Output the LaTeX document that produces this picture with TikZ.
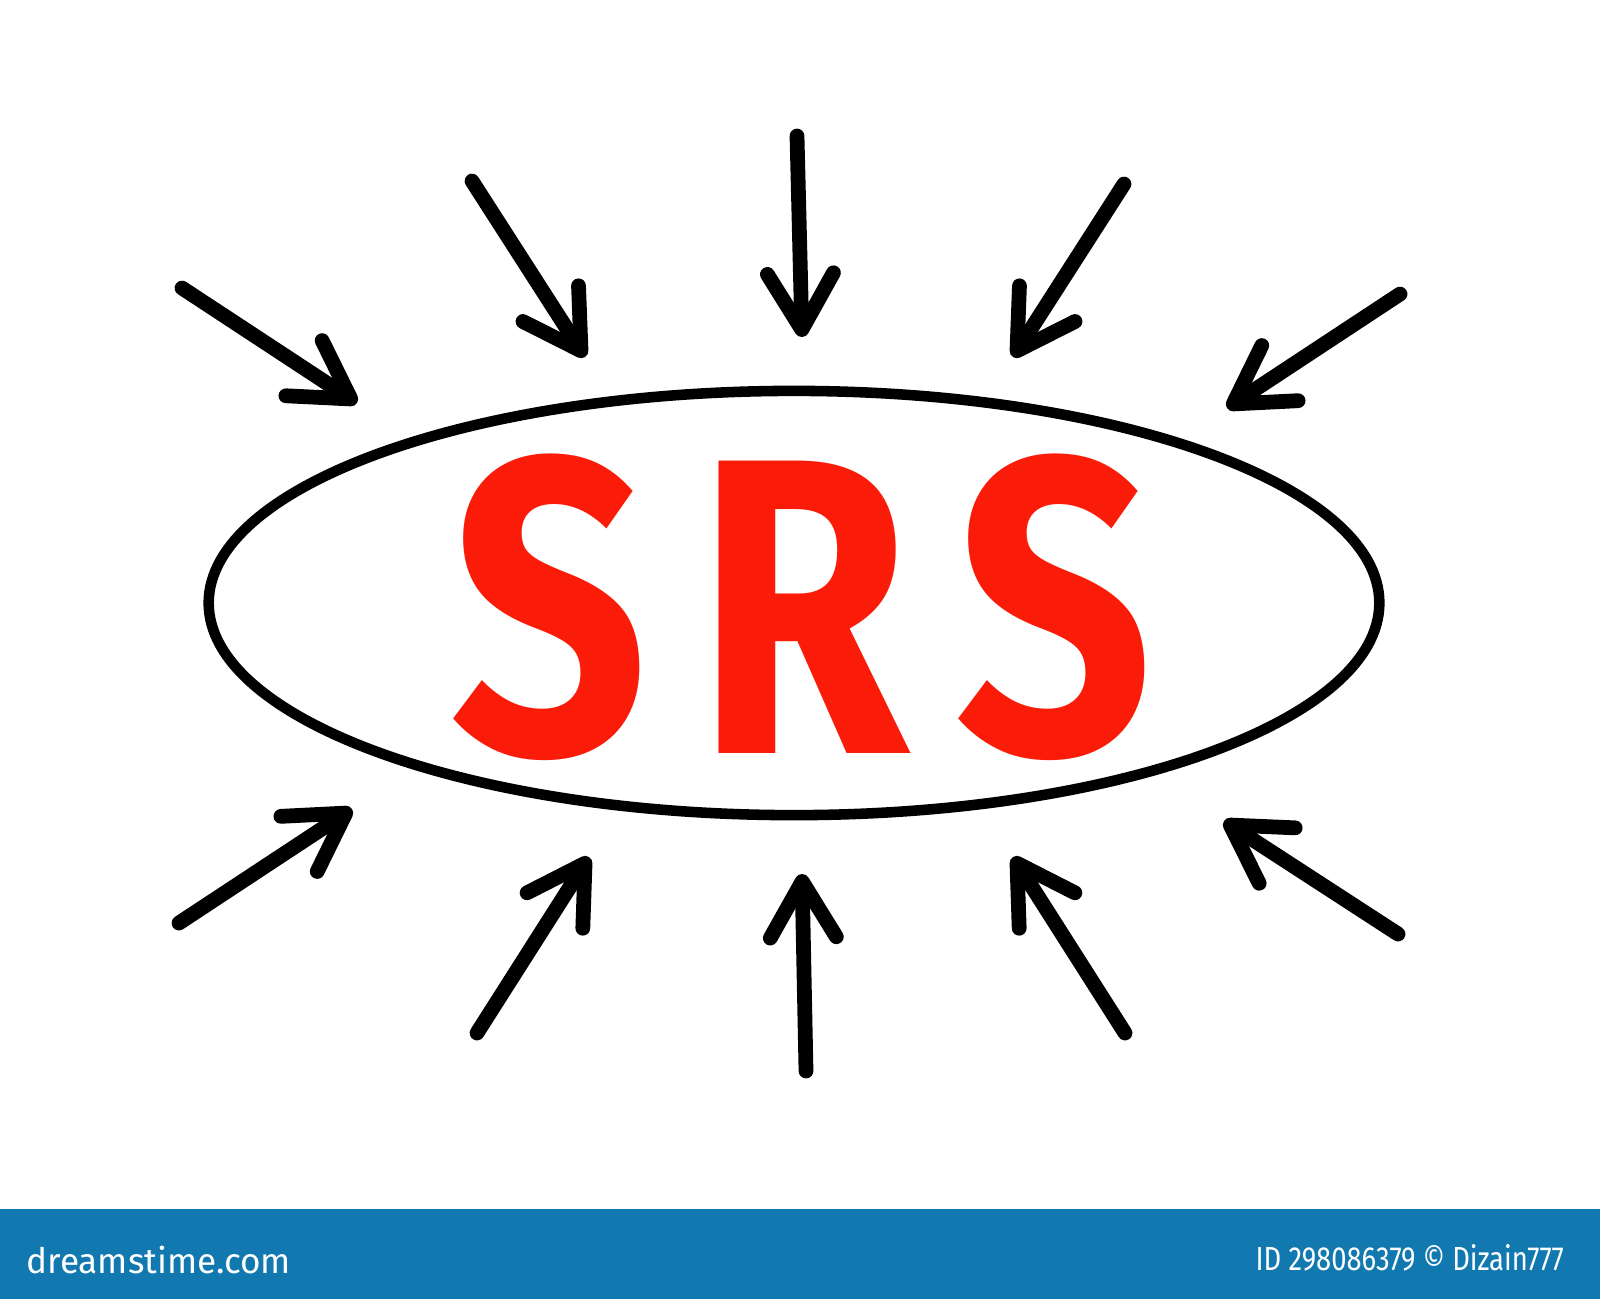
\documentclass[tikz,border=0pt]{standalone}
\usepackage{fontspec}
\setmainfont{Fira Sans}
\newfontfamily\srsfont{Fira Sans}[LetterSpace=14]
\usetikzlibrary{arrows.meta,shapes.geometric}
\definecolor{srsred}{RGB}{250,28,8}
\definecolor{barblue}{RGB}{17,120,176}
\tikzset{
  inarrow/.style={line width=4.2pt,line cap=round,line join=round,
    -{Straight Barb[length=5.6mm,width=6.6mm,line cap=round,line join=round]}},
  oval/.style={ellipse,draw,line width=3pt,minimum width=11.7cm,minimum height=4.24cm},
}
\begin{document}
\begin{tikzpicture}[x=0.01cm,y=-0.01cm]
\useasboundingbox (0,0) rectangle (1600,1299);
\fill[barblue] (0,1209) rectangle (1600,1299);

\node[oval] (ring) at (794,603) {};
\node[text=srsred,font=\srsfont\fontsize{120}{120}\bfseries,xscale=0.82] (srs) at (802,607) {SRS};

\foreach \i/\tx/\ty/\hx/\hy in {1/182/288/357/403, 2/472/181/585/357, 3/797/136/802/337,
  4/1124/184/1013/357, 5/1400/294/1227/408, 6/179/923/352/809, 7/477/1033/589/857,
  8/806/1071/802/874, 9/1125/1033/1013/857, 10/1398/934/1224/821}
{
  \coordinate (t\i) at (\tx,\ty);
  \coordinate (h\i) at (\hx,\hy);
  \draw[inarrow] (t\i) -- (h\i);
}

\node[text=white,font=\fontsize{10}{10}\selectfont,anchor=west] (site) at (14,1260) {dreamstime.com};
\node[text=white,font=\fontsize{9.5}{9.5}\selectfont,anchor=east,xscale=0.82] (imgid) at (1574,1258) {ID 298086379 © Dizain777};
\end{tikzpicture}
\end{document}
